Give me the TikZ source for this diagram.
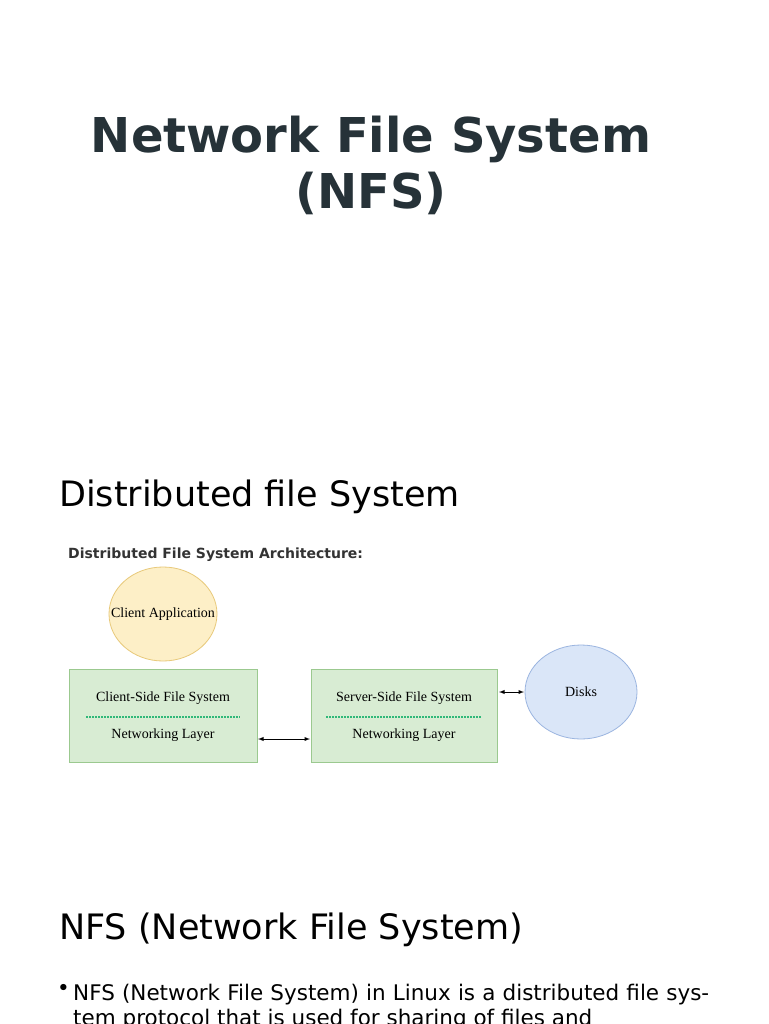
\documentclass[tikz,border=0pt]{standalone}
\usepackage{fontspec}
\usetikzlibrary{shapes.geometric}
\setmainfont{DejaVu Sans}
\newfontfamily\serifd{Liberation Serif}
\definecolor{titlec}{HTML}{263238}
\definecolor{boxfill}{HTML}{D8ECD3}
\definecolor{boxline}{HTML}{9BC98F}
\definecolor{appfill}{HTML}{FDEFC7}
\definecolor{appline}{HTML}{E8C97A}
\definecolor{diskfill}{HTML}{DAE6F8}
\definecolor{diskline}{HTML}{9BB5E0}
\definecolor{dashc}{HTML}{2FB878}
\begin{document}
\begin{tikzpicture}[x=1pt,y=-1pt,
  fsbox/.style={draw=boxline,fill=boxfill,line width=0.8pt},
  lbl/.style={font=\serifd\fontsize{14}{16}\selectfont,inner sep=0pt},
  arr/.style={<->,>=latex,line width=0.9pt},
  dsh/.style={dashc,dash pattern=on 2pt off 1pt,line width=1.3pt}]
\clip (0,0) rectangle (768,1024);
\useasboundingbox (0,0) rectangle (768,1024);
\fill[white] (0,0) rectangle (768,1024);
\node[text=titlec,font=\fontsize{48}{56}\selectfont\bfseries,align=center] (title) at (371,165) {Network File System\\(NFS)};
\node[anchor=west,inner sep=0pt,font=\fontsize{35}{40}\selectfont] (h1) at (59,497) {Distributed file System};
\node[anchor=west,inner sep=0pt,font=\fontsize{14}{16}\selectfont\bfseries,text=black!80] (cap) at (68,555) {Distributed File System Architecture:};
\draw[draw=appline,fill=appfill,line width=0.8pt] (163,614) ellipse [x radius=54,y radius=47];
\node[lbl] (app) at (163,614) {Client Application};
\draw[fsbox] (69,669) rectangle (257,762);
\node[lbl] (c1) at (163,698) {Client-Side File System};
\node[lbl] (c2) at (163,735) {Networking Layer};
\draw[dsh] (86,717) -- (240,717);
\draw[fsbox] (311,669) rectangle (497,762);
\node[lbl] (s1) at (404,698) {Server-Side File System};
\node[lbl] (s2) at (404,735) {Networking Layer};
\draw[dsh] (326,717) -- (481,717);
\draw[draw=diskline,fill=diskfill,line width=0.8pt] (581,692) ellipse [x radius=56,y radius=47];
\node[lbl] (disks) at (581,692) {Disks};
\coordinate (ca) at (258,739);
\coordinate (sa) at (310,739);
\coordinate (sb) at (499,692);
\coordinate (dw) at (524,692);
\draw[arr] (ca) -- (sa);
\draw[arr] (sb) -- (dw);
\node[anchor=west,inner sep=0pt,font=\fontsize{35}{40}\selectfont] (h2) at (59,930) {NFS (Network File System)};
\node[anchor=north west,inner sep=0pt,font=\fontsize{21.5}{26}\selectfont] (bul) at (57,984) {\textbullet};
\node[anchor=north west,inner sep=0pt,text width=636,align=justify,font=\fontsize{21.5}{25}\selectfont] (body) at (73,984) {\hyphenpenalty=10000\exhyphenpenalty=10000 NFS (Network File System) in Linux is a distributed file system protocol that is used for sharing of files and};
\end{tikzpicture}
\end{document}
